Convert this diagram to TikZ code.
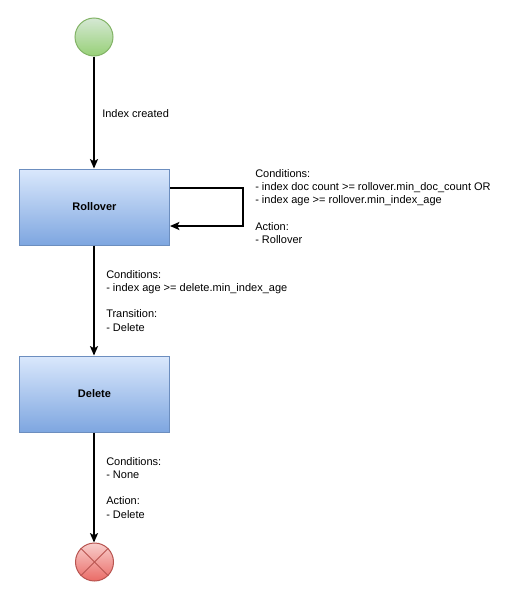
\documentclass[tikz,border=0pt]{standalone}
\usepackage{fontspec}
\setmainfont{Liberation Sans}
\usepackage{xcolor}
\usepackage{tikz}
\usetikzlibrary{arrows.meta, positioning}

\definecolor{startfill1}{HTML}{D5E8D4}
\definecolor{startfill2}{HTML}{97D077}
\definecolor{startline}{HTML}{82B366}
\definecolor{stepfill1}{HTML}{DAE8FC}
\definecolor{stepfill2}{HTML}{7EA6E0}
\definecolor{stepline}{HTML}{6C8EBF}
\definecolor{endfill1}{HTML}{F8CECC}
\definecolor{endfill2}{HTML}{EA6B66}
\definecolor{endline}{HTML}{B85450}

\begin{document}
\begin{tikzpicture}[
    x=0.75pt, y=-0.75pt,
    startstate/.style={circle, draw=startline, line width=0.75pt, top color=startfill1, bottom color=startfill2, minimum size=28.5pt, inner sep=0pt},
    endstate/.style={circle, draw=endline, line width=0.75pt, top color=endfill1, bottom color=endfill2, minimum size=28.5pt, inner sep=0pt},
    phase/.style={rectangle, draw=stepline, line width=0.75pt, top color=stepfill1, bottom color=stepfill2, minimum width=112.5pt, minimum height=57pt, align=center, font=\fontsize{8.25}{9.9}\selectfont\bfseries},
    arrow/.style={-{Stealth[length=7pt, width=6pt, inset=1.5pt]}, line width=1.2pt, draw=black},
    note/.style={anchor=north west, inner sep=0pt, align=left, font=\fontsize{8.25}{9.9}\selectfont},
]
\useasboundingbox (0,0) rectangle (514,600);

% States
\node[startstate] (start) at (94,37) {};
\node[phase] (roll) at (94.5,207) {Rollover};
\node[phase] (del) at (94.5,394) {Delete};
\node[endstate] (stop) at (94.5,562) {};
\draw[endline, line width=0.75pt] (stop.north west) -- (stop.south east);
\draw[endline, line width=0.75pt] (stop.north east) -- (stop.south west);

% Transitions
\draw[arrow] (start.south) -- (start.south |- roll.north);
\draw[arrow] (roll.south -| start.south) -- (start.south |- del.north);
\draw[arrow] (del.south -| start.south) -- (start.south |- stop.north);

% Rollover self loop
\coordinate (loopA) at (243,188);
\coordinate (loopB) at (243,226);
\draw[arrow] (roll.east |- loopA) -- (loopA) -- (loopB) -- (roll.east |- loopB);

% Labels
\node[note] (lcreated) at (102,109) {Index created};
\node[note] (lroll) at (255,169) {Conditions:\\- index doc count >= rollover.min\_doc\_count OR\\- index age >= rollover.min\_index\_age\\[9.9pt]Action:\\- Rollover};
\node[note] (ldel) at (106,270) {Conditions:\\- index age >= delete.min\_index\_age\\[9.9pt]Transition:\\- Delete};
\node[note] (lstop) at (106,457) {Conditions:\\- None\\[9.9pt]Action:\\- Delete};

\end{tikzpicture}
\end{document}
